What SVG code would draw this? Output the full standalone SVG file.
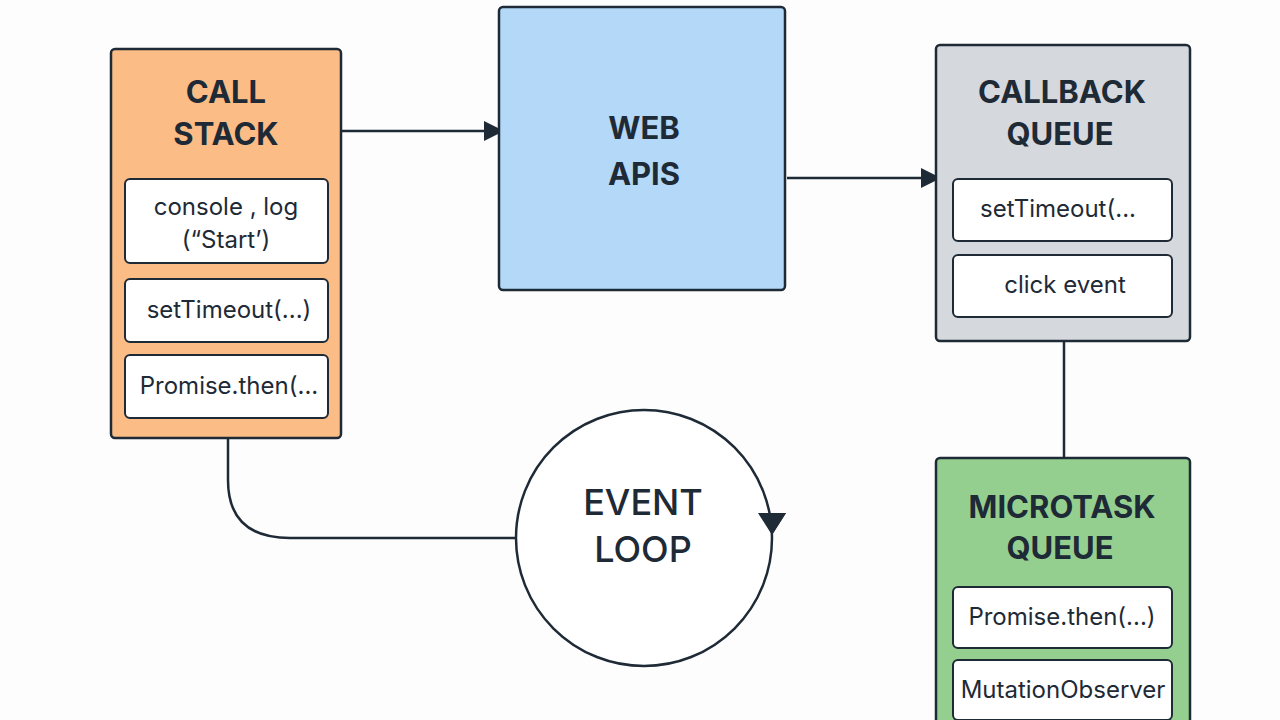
<svg xmlns="http://www.w3.org/2000/svg" width="1280" height="720" viewBox="0 0 1280 720">
<style>
.box{stroke:#1e2a36;stroke-width:2.5}
.inner{fill:#fff;stroke:#1e2a36;stroke-width:2}
.t{font-family:"Inter","Liberation Sans",sans-serif;font-weight:bold;font-size:31px;fill:#1e2a36;text-anchor:middle}
.s{font-family:"Inter","Liberation Sans",sans-serif;font-size:24px;fill:#1e2a36;text-anchor:middle}
.c{fill:none;stroke:#1e2a36;stroke-width:2.5}
</style>
<defs><marker id="a" markerWidth="10" markerHeight="10" refX="9" refY="5" orient="auto" markerUnits="userSpaceOnUse" viewBox="0 0 10 10"><path d="M0,0L10,5L0,10z" fill="#1e2a36"/></marker>
<marker id="ah" viewBox="0 0 20 20" refX="10" refY="10" markerWidth="20" markerHeight="20" orient="auto" markerUnits="userSpaceOnUse"><path d="M0,0L20,10L0,20z" fill="#1e2a36"/></marker></defs>
<rect width="1280" height="720" fill="#fdfdfd"/>
<g id="connectors">
<line class="c" x1="341" y1="131" x2="494" y2="131" marker-end="url(#ah)"/>
<line class="c" x1="787" y1="178" x2="931" y2="178" marker-end="url(#ah)"/>
<line class="c" x1="1064" y1="341" x2="1064" y2="458"/>
<path class="c" d="M228,438 V480 Q228,538 290,538 H516"/>
<path d="M758,513 L786,513 L772,535 Z" fill="#1e2a36"/>
</g>
<g id="call-stack">
<rect class="box" x="111" y="49" width="230" height="389" rx="4" fill="#fbbc85"/>
<text class="t" x="226" y="103">CALL</text>
<text class="t" x="226" y="145">STACK</text>
<rect class="inner" x="125" y="179" width="203" height="84" rx="5"/>
<text class="s" x="226" y="215">console , log</text>
<text class="s" x="226" y="248">(“Start’)</text>
<rect class="inner" x="125" y="279" width="203" height="63" rx="5"/>
<text class="s" x="229" y="318">setTimeout(...)</text>
<rect class="inner" x="125" y="355" width="203" height="63" rx="5"/>
<text class="s" x="229" y="394">Promise.then(...</text>
</g>
<g id="web-apis">
<rect class="box" x="499" y="7" width="286" height="283" rx="4" fill="#b3d8f8"/>
<text class="t" x="644" y="139">WEB</text>
<text class="t" x="644" y="185">APIS</text>
</g>
<g id="callback-queue">
<rect class="box" x="936" y="45" width="254" height="296" rx="4" fill="#d5d8dc"/>
<text class="t" x="1062" y="103">CALLBACK</text>
<text class="t" x="1060" y="145">QUEUE</text>
<rect class="inner" x="953" y="179" width="219" height="62" rx="5"/>
<text class="s" x="1058" y="217">setTimeout(...</text>
<rect class="inner" x="953" y="255" width="219" height="62" rx="5"/>
<text class="s" x="1065" y="293">click event</text>
</g>
<g id="microtask-queue">
<rect class="box" x="936" y="458" width="254" height="275" rx="4" fill="#95cf90"/>
<text class="t" x="1062" y="518">MICROTASK</text>
<text class="t" x="1060" y="559">QUEUE</text>
<rect class="inner" x="953" y="587" width="219" height="61" rx="5"/>
<text class="s" x="1062" y="625">Promise.then(...)</text>
<rect class="inner" x="953" y="660" width="219" height="60" rx="5"/>
<text class="s" x="1063" y="698">MutationObserver</text>
</g>
<g id="event-loop">
<circle cx="644" cy="538" r="128" fill="#fff" stroke="#1e2a36" stroke-width="2.5"/>
<path d="M758,513 L786,513 L772,535 Z" fill="#1e2a36"/>
<text class="t" x="643" y="515" style="font-weight:500;font-size:36px">EVENT</text>
<text class="t" x="643" y="562" style="font-weight:500;font-size:36px">LOOP</text>
</g>
</svg>
